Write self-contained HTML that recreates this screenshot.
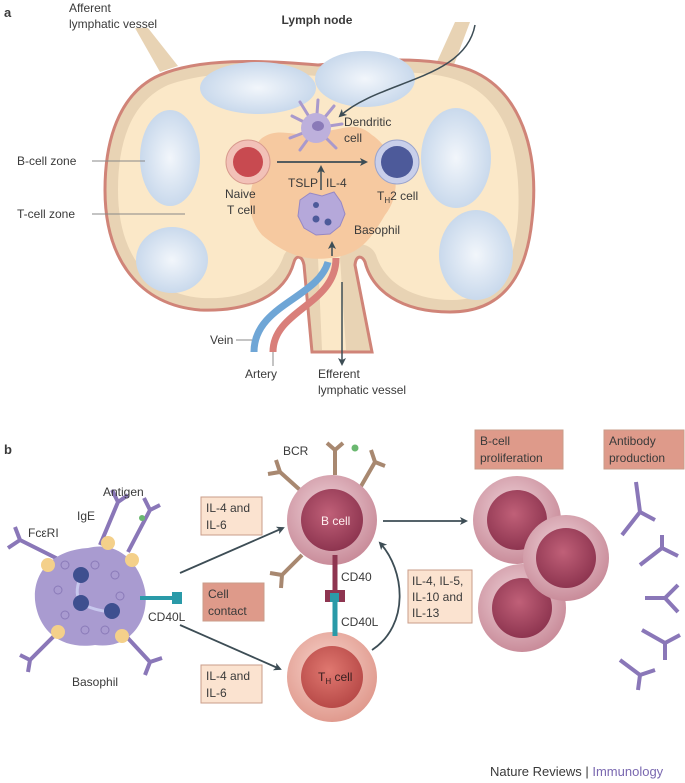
<!DOCTYPE html>
<html><head><meta charset="utf-8"><style>
html,body{margin:0;padding:0;background:#fff}
svg{display:block}
text{font-family:"Liberation Sans",sans-serif;font-size:12px;fill:#3a3a3a}
</style></head><body>
<svg width="685" height="783" viewBox="0 0 685 783" xmlns="http://www.w3.org/2000/svg">
<defs>
<marker id="ar" markerWidth="8" markerHeight="8" refX="6" refY="4" orient="auto" markerUnits="userSpaceOnUse"><path d="M0,0 L8,4 L0,8 L2,4z" fill="#3d4d55"/></marker>
<radialGradient id="fol" cx="50%" cy="50%" r="50%"><stop offset="0" stop-color="#f2f6fb"/><stop offset="1" stop-color="#c9d9ec"/></radialGradient>
<radialGradient id="pk" cx="45%" cy="40%" r="60%"><stop offset="0" stop-color="#f0d4da"/><stop offset="1" stop-color="#c98c9a"/></radialGradient>
<radialGradient id="pkin" cx="45%" cy="40%" r="60%"><stop offset="0" stop-color="#c06078"/><stop offset="1" stop-color="#8e3550"/></radialGradient>
<radialGradient id="th" cx="45%" cy="40%" r="60%"><stop offset="0" stop-color="#f8d4cc"/><stop offset="1" stop-color="#e09a8e"/></radialGradient>
<radialGradient id="thin" cx="45%" cy="40%" r="60%"><stop offset="0" stop-color="#e07870"/><stop offset="1" stop-color="#b84a48"/></radialGradient>
</defs>
<!-- PANEL A -->
<text x="4" y="17" style="font-weight:bold;font-size:13px">a</text>
<text x="69" y="12">Afferent</text>
<text x="69" y="28">lymphatic vessel</text>
<text x="317" y="24" text-anchor="middle" style="font-weight:bold">Lymph node</text>
<!-- vessels top -->
<path d="M135,28 L148,28 L178,66 L160,72z" fill="#e8d3b4"/>
<path d="M455,22 L470,22 L452,70 L436,64z" fill="#e8d3b4"/>
<!-- node outline -->
<path d="M160,75 C200,58 260,60 318,65 C370,60 430,55 470,70 C520,90 540,150 532,220 C526,280 500,312 450,312 C400,312 372,290 365,262 C362,255 356,255 355,265 L372,352 L312,352 L304,265 C302,255 296,255 294,262 C285,295 250,312 200,310 C140,305 105,260 105,190 C105,130 125,90 160,75z" fill="#e8d3b4" stroke="#d08478" stroke-width="3"/>
<path d="M168,85 C210,70 260,72 318,76 C370,72 430,68 462,82 C505,100 522,150 518,218 C514,272 494,300 452,300 C412,300 384,282 376,255 C370,240 345,240 340,258 L346,350 L322,350 L318,258 C312,240 292,240 284,255 C274,285 245,300 202,298 C150,294 118,256 118,190 C118,135 135,100 168,85z" fill="#fbe8c8"/>
<!-- T zone -->
<path d="M262,138 C280,125 300,140 318,132 C345,130 355,120 372,135 C395,150 405,190 385,215 C370,240 360,255 330,258 C300,262 280,250 262,235 C245,215 248,190 258,170 C262,158 250,148 262,138z" fill="#f6c9a0"/>
<!-- follicles -->
<ellipse cx="258" cy="88" rx="58" ry="26" fill="url(#fol)"/>
<ellipse cx="365" cy="79" rx="50" ry="28" fill="url(#fol)"/>
<ellipse cx="170" cy="158" rx="30" ry="48" fill="url(#fol)"/>
<ellipse cx="456" cy="158" rx="35" ry="50" fill="url(#fol)"/>
<ellipse cx="172" cy="260" rx="36" ry="33" fill="url(#fol)"/>
<ellipse cx="476" cy="255" rx="37" ry="45" fill="url(#fol)"/>
<!-- blood vessels -->
<path d="M254,352 C254,305 318,298 328,262" fill="none" stroke="#6fa6d6" stroke-width="7"/>
<path d="M273,352 C273,310 336,305 336,258" fill="none" stroke="#d97f7a" stroke-width="7"/>
<line x1="342" y1="282" x2="342" y2="364" stroke="#3d4d55" stroke-width="1.5" marker-end="url(#ar)"/>
<line x1="332" y1="256" x2="332" y2="243" stroke="#3d4d55" stroke-width="1.5" marker-end="url(#ar)"/>
<path d="M475,25 C465,80 380,80 340,116" fill="none" stroke="#3d4d55" stroke-width="1.5" marker-end="url(#ar)"/>
<!-- cells -->
<circle cx="248" cy="162" r="22" fill="#f2c1b8" stroke="#d89a8e"/>
<circle cx="248" cy="162" r="15" fill="#c84a50"/>
<circle cx="397" cy="162" r="22" fill="#c9cfea" stroke="#9aa4cc"/>
<circle cx="397" cy="162" r="16" fill="#4d5a9a"/>
<g stroke="#a999cc" stroke-width="3" stroke-linecap="round">
<line x1="316" y1="128" x2="292" y2="116"/><line x1="316" y1="128" x2="300" y2="102"/><line x1="316" y1="128" x2="318" y2="100"/><line x1="316" y1="128" x2="334" y2="106"/><line x1="316" y1="128" x2="342" y2="124"/><line x1="316" y1="128" x2="336" y2="148"/><line x1="316" y1="128" x2="300" y2="150"/><line x1="316" y1="128" x2="290" y2="138"/></g>
<circle cx="316" cy="128" r="15" fill="#bdb0dc"/>
<ellipse cx="318" cy="126" rx="6" ry="5" fill="#8a7ab8"/>
<line x1="277" y1="162" x2="366" y2="162" stroke="#3d4d55" stroke-width="1.8" marker-end="url(#ar)"/>
<line x1="321" y1="190" x2="321" y2="167" stroke="#3d4d55" stroke-width="1.5" marker-end="url(#ar)"/>
<path d="M300,200 L310,193 L322,196 L334,192 L341,202 L345,214 L340,226 L330,234 L316,235 L304,228 L298,216z" fill="#b5a8da" stroke="#9688c4"/>
<circle cx="316" cy="205" r="3" fill="#4d5a9a"/><circle cx="316" cy="219" r="3.5" fill="#4d5a9a"/><circle cx="328" cy="222" r="3.5" fill="#4d5a9a"/>
<text x="344" y="126">Dendritic</text><text x="344" y="142">cell</text>
<text x="288" y="187">TSLP</text><text x="326" y="187">IL-4</text>
<text x="225" y="198">Naive</text><text x="227" y="214">T cell</text>
<text x="377" y="200">T<tspan style="font-size:8px" dy="3">H</tspan><tspan dy="-3">2 cell</tspan></text>
<text x="354" y="234">Basophil</text>
<g stroke="#888" stroke-width="1"><line x1="92" y1="161" x2="145" y2="161"/><line x1="92" y1="214" x2="185" y2="214"/><line x1="236" y1="340" x2="252" y2="340"/><line x1="273" y1="352" x2="273" y2="366"/></g>
<text x="17" y="165">B-cell zone</text><text x="17" y="218">T-cell zone</text>
<text x="210" y="344">Vein</text><text x="245" y="378">Artery</text>
<text x="318" y="378">Efferent</text><text x="318" y="394">lymphatic vessel</text>
<!-- PANEL B -->
<text x="4" y="454" style="font-weight:bold;font-size:13px">b</text>
<!-- basophil receptors -->
<g stroke="#8a77b8" stroke-width="4" fill="none">
<path d="M60,560 L20,540 M20,540 L8,548 M20,540 L15,527"/>
<path d="M100,545 L118,502 M118,502 L112,490 M118,502 L128,495"/>
<path d="M128,552 L150,510 M150,510 L144,498 M150,510 L160,505"/>
<path d="M60,630 L30,660 M30,660 L20,655 M30,660 L28,672"/>
<path d="M125,635 L150,662 M150,662 L145,675 M150,662 L162,658"/>
</g>
<path d="M88,548 C120,540 140,565 145,590 C150,620 130,650 95,645 C60,650 38,630 35,600 C33,570 55,550 88,548z" fill="#a99bd0"/>
<g fill="#f4d08a"><circle cx="48" cy="565" r="7"/><circle cx="108" cy="543" r="7"/><circle cx="132" cy="560" r="7"/><circle cx="58" cy="632" r="7"/><circle cx="122" cy="636" r="7"/></g>
<g fill="none" stroke="#8a7ab8"><circle cx="65" cy="565" r="4"/><circle cx="95" cy="565" r="4"/><circle cx="115" cy="575" r="4"/><circle cx="58" cy="590" r="4"/><circle cx="120" cy="596" r="4"/><circle cx="65" cy="615" r="4"/><circle cx="85" cy="630" r="4"/><circle cx="105" cy="630" r="4"/></g>
<path d="M80,578 C72,600 80,608 110,612" fill="none" stroke="#c8c8ee" stroke-width="3"/>
<circle cx="81" cy="575" r="8" fill="#3e4f8f"/><circle cx="81" cy="603" r="8" fill="#3e4f8f"/><circle cx="112" cy="611" r="8" fill="#3e4f8f"/>
<circle cx="142" cy="518" r="3" fill="#6ab870"/>
<line x1="140" y1="598" x2="175" y2="598" stroke="#2a9aa8" stroke-width="4"/>
<rect x="172" y="592" width="10" height="12" fill="#2a9aa8"/>
<text x="28" y="537">FcεRI</text><text x="77" y="520">IgE</text><text x="103" y="496">Antigen</text>
<text x="148" y="621">CD40L</text><text x="72" y="686">Basophil</text>
<!-- arrows -->
<line x1="180" y1="573" x2="283" y2="528" stroke="#3d4d55" stroke-width="1.8" marker-end="url(#ar)"/>
<line x1="180" y1="625" x2="280" y2="669" stroke="#3d4d55" stroke-width="1.8" marker-end="url(#ar)"/>
<line x1="383" y1="521" x2="466" y2="521" stroke="#3d4d55" stroke-width="1.8" marker-end="url(#ar)"/>
<path d="M372,650 C410,625 405,570 380,543" fill="none" stroke="#3d4d55" stroke-width="1.8" marker-end="url(#ar)"/>
<!-- BCR -->
<g stroke="#a88870" stroke-width="4" fill="none">
<path d="M300,490 L280,472 M280,472 L276,460 M280,472 L268,474"/>
<path d="M335,475 L335,450 M335,450 L327,443 M335,450 L343,443"/>
<path d="M360,488 L375,462 M375,462 L385,466 M375,462 L371,450"/>
<path d="M302,555 L282,575 M282,575 L270,573 M282,575 L281,588"/>
</g>
<circle cx="355" cy="448" r="3.5" fill="#6ab870"/>
<circle cx="332" cy="520" r="45" fill="url(#pk)"/>
<circle cx="332" cy="520" r="31" fill="url(#pkin)"/>
<circle cx="332" cy="677" r="45" fill="url(#th)"/>
<circle cx="332" cy="677" r="31" fill="url(#thin)"/>
<line x1="335" y1="555" x2="335" y2="594" stroke="#8e3550" stroke-width="5"/>
<rect x="325" y="590" width="20" height="12" fill="#8e3550"/>
<rect x="330" y="593" width="9" height="9" fill="#2a9aa8"/>
<line x1="335" y1="602" x2="335" y2="636" stroke="#2a9aa8" stroke-width="5"/>
<text x="321" y="525" style="fill:#fff0f0">B cell</text>
<text x="318" y="681" style="fill:#3a2020">T<tspan style="font-size:8px" dy="3">H</tspan><tspan dy="-3"> cell</tspan></text>
<text x="283" y="455">BCR</text><text x="341" y="581">CD40</text><text x="341" y="626">CD40L</text>
<!-- boxes -->
<g stroke="#c99c8a" stroke-width="1">
<rect x="201" y="497" width="61" height="38" fill="#fbe3d0"/>
<rect x="201" y="665" width="61" height="38" fill="#fbe3d0"/>
<rect x="203" y="583" width="61" height="38" fill="#de9a8a"/>
<rect x="408" y="570" width="64" height="53" fill="#fbe3d0"/>
<rect x="475" y="430" width="88" height="39" fill="#de9a8a"/>
<rect x="604" y="430" width="80" height="39" fill="#de9a8a"/>
</g>
<text x="206" y="512">IL-4 and</text><text x="206" y="529">IL-6</text>
<text x="206" y="680">IL-4 and</text><text x="206" y="697">IL-6</text>
<text x="208" y="598">Cell</text><text x="208" y="615">contact</text>
<text x="412" y="585">IL-4, IL-5,</text><text x="412" y="601">IL-10 and</text><text x="412" y="617">IL-13</text>
<text x="480" y="445">B-cell</text><text x="480" y="462">proliferation</text>
<text x="609" y="445">Antibody</text><text x="609" y="462">production</text>
<!-- proliferating cells -->
<circle cx="517" cy="520" r="44" fill="url(#pk)"/><circle cx="517" cy="520" r="30" fill="url(#pkin)"/>
<circle cx="522" cy="608" r="44" fill="url(#pk)"/><circle cx="522" cy="608" r="30" fill="url(#pkin)"/>
<circle cx="566" cy="558" r="43" fill="url(#pk)"/><circle cx="566" cy="558" r="30" fill="url(#pkin)"/>
<!-- antibodies -->
<g stroke="#8a77b8" stroke-width="4" fill="none">
<path d="M622,535 L640,512 M640,512 L636,482 M640,512 L655,520"/>
<path d="M640,565 L662,548 M662,548 L662,535 M662,548 L678,556"/>
<path d="M645,598 L665,598 M665,598 L678,585 M665,598 L678,612"/>
<path d="M642,630 L665,643 M665,643 L665,660 M665,643 L680,635"/>
<path d="M620,660 L640,675 M640,675 L638,690 M640,675 L655,670"/>
</g>
<text x="490" y="776" style="font-size:13px">Nature Reviews | <tspan style="fill:#7a68b0">Immunology</tspan></text>
</svg>
</body></html>
